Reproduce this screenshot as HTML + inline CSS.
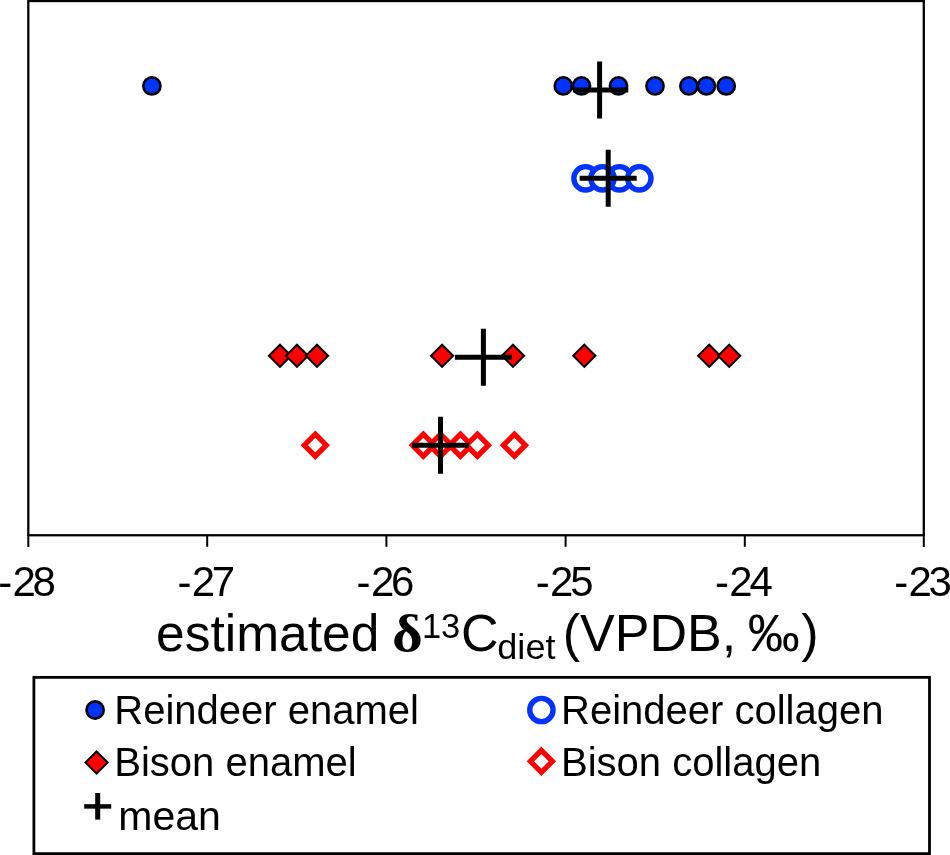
<!DOCTYPE html>
<html>
<head>
<meta charset="utf-8">
<style>
html,body{margin:0;padding:0;background:#fff;width:950px;height:855px;overflow:hidden}
svg{display:block}
text{font-family:"Liberation Sans",Arial,sans-serif;fill:#000}
.serif{font-family:"Liberation Serif","Times New Roman",serif;font-weight:bold}
</style>
</head>
<body>
<svg width="950" height="855" viewBox="0 0 950 855">
<defs>
<circle id="fc" r="8.6" fill="#0033ff" stroke="#000" stroke-width="2.6"/>
<circle id="oc" r="11.65" fill="#fff" stroke="#0033ff" stroke-width="5.4"/>
<path id="fd" d="M0,-11.1 L11.1,0 L0,11.1 L-11.1,0 Z" fill="#ff0000" stroke="#000" stroke-width="2" stroke-linejoin="miter"/>
<path id="od" d="M0,-11 L11,0 L0,11 L-11,0 Z" fill="#fff" stroke="#ff0000" stroke-width="5.2" stroke-linejoin="miter"/>
<path id="cr" d="M0,-28.5 V28.5 M-28.5,0 H28.5" fill="none" stroke="#000" stroke-width="5"/>
</defs>

<!-- plot frame -->
<rect x="28.3" y="1" width="895.5" height="534.25" fill="#fff" stroke="#000" stroke-width="2.3"/>
<!-- ticks -->
<g stroke="#000" stroke-width="2">
<line x1="28.3" y1="535" x2="28.3" y2="547"/>
<line x1="207.2" y1="535" x2="207.2" y2="546.8"/>
<line x1="386.4" y1="535" x2="386.4" y2="546.8"/>
<line x1="565.6" y1="535" x2="565.6" y2="546.8"/>
<line x1="744.8" y1="535" x2="744.8" y2="546.8"/>
<line x1="923.8" y1="535" x2="923.8" y2="547"/>
</g>
<g font-size="42">
<text x="-1.8 12.5 32.6" y="597.2 596.2 596.2">-28</text>
<text x="177.4 191.7 211.8" y="597.2 596.2 596.2">-27</text>
<text x="356.6 370.9 391.0" y="597.2 596.2 596.2">-26</text>
<text x="535.8 550.1 570.2" y="597.2 596.2 596.2">-25</text>
<text x="715.0 729.3 749.4" y="597.2 596.2 596.2">-24</text>
<text x="894.2 908.5 928.6" y="597.2 596.2 596.2">-23</text>
</g>

<!-- axis title -->
<text x="156" y="650.5" font-size="51.5">estimated</text>
<text class="serif" transform="translate(392,650.5) scale(1.14,1)" x="0" y="0" font-size="52">δ</text>
<text x="421.9" y="637.5" font-size="35.5" textLength="38.3" lengthAdjust="spacingAndGlyphs">13</text>
<text x="461" y="650.5" font-size="52">C</text>
<text x="497.3" y="659" font-size="35" textLength="58.2" lengthAdjust="spacingAndGlyphs">diet</text>
<text x="562.75" y="650.6" font-size="52">(VPDB,</text>
<text x="747.8" y="650.6" font-size="52">‰</text>
<text x="801.2" y="650.6" font-size="52">)</text>

<!-- row 1: reindeer enamel -->
<g>
<use href="#fc" x="151.9" y="85.9"/>
<use href="#fc" x="563.3" y="85.9"/>
<use href="#fc" x="581.5" y="85.9"/>
<use href="#fc" x="618.5" y="85.9"/>
<use href="#fc" x="655" y="85.9"/>
<use href="#fc" x="688.9" y="85.9"/>
<use href="#fc" x="706.4" y="85.9"/>
<use href="#fc" x="726.2" y="85.9"/>
</g>
<!-- row 2: reindeer collagen -->
<g>
<use href="#oc" x="585.5" y="178.3"/>
<use href="#oc" x="619.5" y="178.3"/>
<use href="#oc" x="602.5" y="178.3"/>
<use href="#oc" x="639.35" y="178.3"/>
</g>
<!-- row 3: bison enamel -->
<g>
<use href="#fd" x="280.0" y="355.8"/>
<use href="#fd" x="297.0" y="355.8"/>
<use href="#fd" x="317.0" y="355.8"/>
<use href="#fd" x="442.1" y="355.8"/>
<use href="#fd" x="513.0" y="355.8"/>
<use href="#fd" x="584.3" y="355.8"/>
<use href="#fd" x="709.2" y="355.8"/>
<use href="#fd" x="729.2" y="355.8"/>
</g>
<!-- row 4: bison collagen -->
<g>
<use href="#od" x="315.3" y="445.2"/>
<use href="#od" x="423.3" y="445.2"/>
<use href="#od" x="440.5" y="445.2"/>
<use href="#od" x="460.4" y="445.2"/>
<use href="#od" x="477.4" y="445.2"/>
<use href="#od" x="514.4" y="445.2"/>
</g>
<!-- means -->
<path d="M599.6,61.5 V118.5 M573,90 H628.2" fill="none" stroke="#000" stroke-width="5"/>
<use href="#cr" x="608.2" y="178.3"/>
<use href="#cr" x="483.4" y="357.3"/>
<use href="#cr" x="440.5" y="445.3"/>

<!-- legend -->
<rect x="33.9" y="677.35" width="895.6" height="176.3" fill="none" stroke="#000" stroke-width="2.8"/>
<use href="#fc" x="95.1" y="710"/>
<use href="#fd" x="96.55" y="762.6"/>
<use href="#oc" x="541.4" y="710"/>
<use href="#od" x="541.4" y="761.3"/>
<path d="M97.7,793 V819.6" stroke="#000" stroke-width="5" fill="none"/>
<path d="M84.2,806.4 H111.2" stroke="#000" stroke-width="4.5" fill="none"/>
<g font-size="40">
<text x="114.3" y="724.2">Reindeer enamel</text>
<text x="114.3" y="775.7">Bison enamel</text>
<text x="561" y="724.2">Reindeer collagen</text>
<text x="561" y="775.7">Bison collagen</text>
</g>
<text x="118.3" y="829.5" font-size="41">mean</text>
</svg>
</body>
</html>
